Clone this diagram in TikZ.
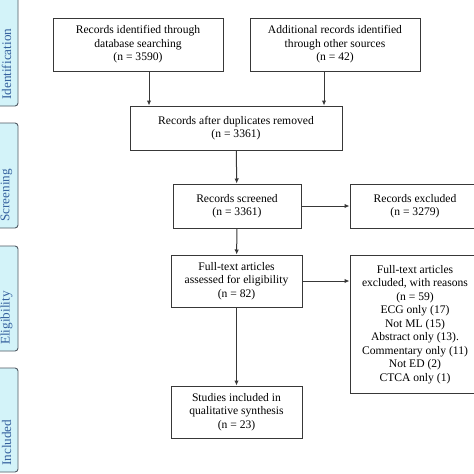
\documentclass[tikz,border=0pt]{standalone}
\usepackage{fontspec}
\setmainfont{Liberation Serif}
\usetikzlibrary{arrows.meta}
\definecolor{boxline}{HTML}{383838}
\definecolor{tabfill}{HTML}{D3F3F9}
\definecolor{tabline}{HTML}{505A64}
\definecolor{tabtext}{HTML}{34609E}
\tikzset{
  stage/.style={draw=boxline, line width=1pt, fill=white, align=center, inner sep=2pt, font=\fontsize{11.6}{13.5}\selectfont},
  flow/.style={-{Latex[length=5pt,width=4.5pt]}, draw=boxline, line width=1pt},
  phase/.style={draw=tabline, fill=tabfill, line width=0.9pt, rounded corners=3pt}
}
\begin{document}
\begin{tikzpicture}[x=1pt, y=-1pt]
\useasboundingbox (0,0) rectangle (474,474);
\fill[white] (0,0) rectangle (474,474);
% phase tabs
\foreach \top/\bot/\name in {-4/106/Identification, 123/228/Screening, 246/351/Eligibility, 368/472/Included}{
  \draw[phase] (-8,\top) rectangle (18,\bot);
  \node[rotate=90, anchor=west, text=tabtext, font=\fontsize{13.2}{15}\selectfont, inner sep=0pt] at (6.5,\bot-6) {\name};
}
% boxes
\node[stage, minimum width=170pt, minimum height=53pt] (db) at (138,44.5) {Records identified through\\database searching\\(n = 3590)};
\node[stage, minimum width=170pt, minimum height=53pt] (other) at (335,44.5) {Additional records identified\\through other sources\\(n = 42)};
\node[stage, minimum width=212pt, minimum height=44pt] (dup) at (236,128) {Records after duplicates removed\\(n = 3361)};
\node[stage, minimum width=128pt, minimum height=44pt] (scr) at (237,206) {Records screened\\(n = 3361)};
\node[stage, minimum width=130pt, minimum height=44pt] (excl) at (415,206) {Records excluded\\(n = 3279)};
\node[stage, minimum width=131pt, minimum height=52pt] (full) at (236.5,281) {Full-text articles\\assessed for eligibility\\(n = 82)};
\node[stage, minimum width=130pt, minimum height=138pt, anchor=north] (reasons) at (415,255) {Full-text articles\\excluded, with reasons\\(n = 59)\\ECG only (17)\\Not ML (15)\\Abstract only (13).\\Commentary only (11)\\Not ED (2)\\CTCA only (1)};
\node[stage, minimum width=131pt, minimum height=52pt] (incl) at (236.5,412) {Studies included in\\qualitative synthesis\\(n = 23)};
% connectors
\draw[flow] ([xshift=11pt]db.south) -- ([xshift=11pt]db.south |- dup.north);
\draw[flow] ([xshift=-11pt]other.south) -- ([xshift=-11pt]other.south |- dup.north);
\draw[flow] (dup) -- (scr);
\draw[flow] (scr) -- (excl);
\draw[flow] (scr) -- (full);
\draw[flow] (full.east) -- (full.east -| reasons.west);
\draw[flow] (full) -- (incl);
\end{tikzpicture}
\end{document}
